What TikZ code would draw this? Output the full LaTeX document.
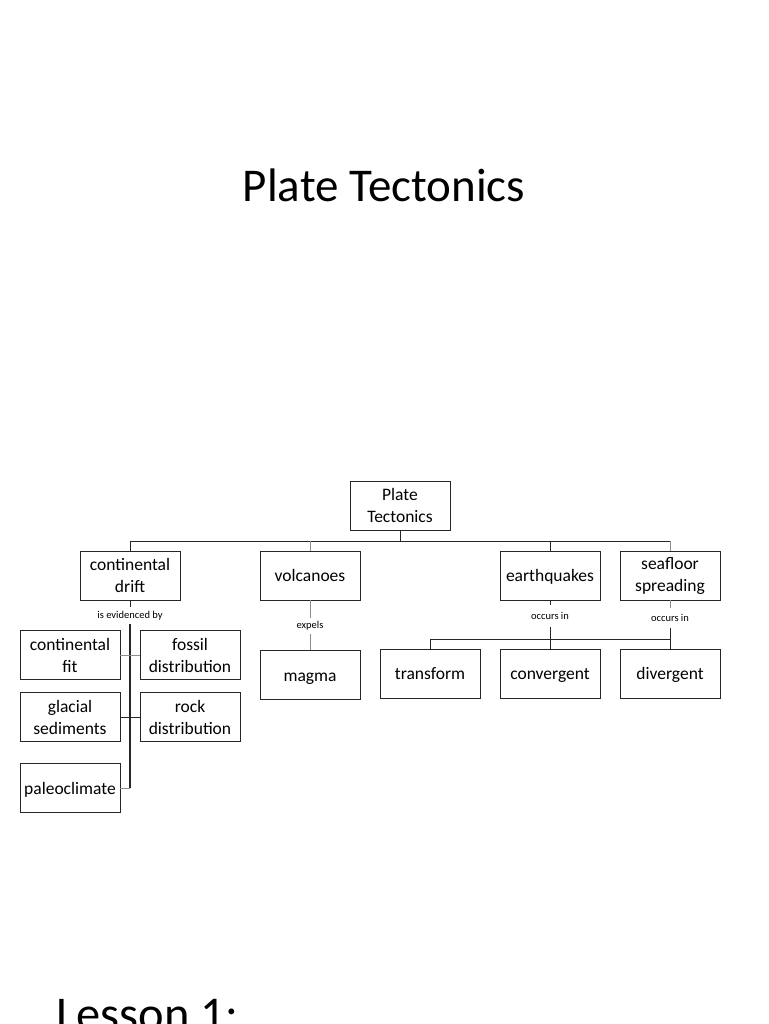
\documentclass[tikz,border=0pt]{standalone}
\usepackage{fontspec}
\setmainfont{Carlito}
\begin{document}
\begin{tikzpicture}[x=1pt,y=-1pt,
  box/.style={draw=black!85,line width=0.9pt,minimum width=100pt,minimum height=49pt,inner sep=1pt,align=center,font=\fontsize{17.5}{22}\selectfont},
  box1/.style={box,text height=16pt,text depth=4pt},
  lbl/.style={inner sep=0pt,font=\fontsize{10.5}{12}\selectfont},
  ln/.style={line width=0.9pt,black!85},
  lng/.style={line width=0.9pt,black!45}]
\useasboundingbox (0,0) rectangle (768,1024);
\fill[white] (0,0) rectangle (768,1024);
\node[anchor=base,inner sep=0pt,font=\fontsize{47}{52}\selectfont] (title) at (384,202) {Plate Tectonics};
\node[anchor=base west,inner sep=0pt,font=\fontsize{48.5}{52}\selectfont] (lesson) at (56,1030) {Lesson 1:};
% level 1
\node[box] (pt) at (400,505.5) {Plate\\Tectonics};
\node[box] (drift) at (130,575.5) {continental\\drift};
\node[box1] (vol) at (310,575.5) {volcanoes};
\node[box1] (eq) at (550,575.5) {earthquakes};
\node[box] (sf) at (670,575.5) {seafloor\\spreading};
\coordinate (busT) at (670,541);
\draw[ln] (pt.south) -- (pt.south |- busT);
\draw[ln] (drift.north) |- (busT);
\draw[lng] (vol.north) -- (vol.north |- busT);
\draw[ln] (eq.north) -- (eq.north |- busT);
\draw[lng] (sf.north) -- (busT);
% continental drift evidence
\node[lbl,minimum height=17pt] (ev) at (130,615.5) {is evidenced by};
\node[box] (fit) at (70,655) {continental\\fit};
\node[box] (fossil) at (190,655) {fossil\\distribution};
\node[box] (glac) at (70,717) {glacial\\sediments};
\node[box] (rock) at (190,717) {rock\\distribution};
\node[box1] (paleo) at (70,788) {paleoclimate};
\coordinate (pc) at (ev.south |- paleo.east);
\draw[ln] (drift.south) -- (ev.north);
\draw[line width=1.4pt,black!85] (ev.south) -- (pc);
\draw[lng] (pc) -- (paleo.east);
\draw[lng] (fit.east) -- (fossil.west);
\draw[ln] (glac.east) -- (rock.west);
% volcanoes
\node[lbl,minimum height=16pt] (exp) at (310,626) {expels};
\node[box1] (mag) at (310,675) {magma};
\draw[lng] (vol.south) -- (exp.north);
\draw[lng] (exp.south) -- (mag.north);
% earthquakes / seafloor
\node[lbl,minimum height=22pt] (eqo) at (550,616) {occurs in};
\node[lbl,minimum height=19pt] (sfo) at (670,618) {occurs in};
\node[box1] (tr) at (430,673.5) {transform};
\node[box1] (cv) at (550,673.5) {convergent};
\node[box1] (dv) at (670,673.5) {divergent};
\coordinate (busB) at (670,639);
\draw[ln] (eq.south) -- (eqo.north);
\draw[ln] (eqo.south) -- (cv.north);
\draw[lng] (sf.south) -- (sfo.north);
\draw[ln] (sfo.south) -- (dv.north);
\draw[ln] (tr.north) |- (busB);
\end{tikzpicture}
\end{document}
